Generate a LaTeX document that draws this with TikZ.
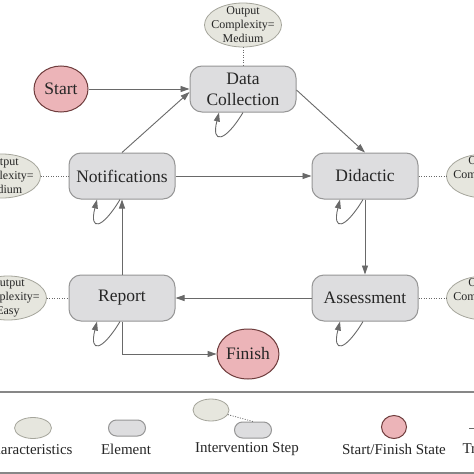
\documentclass[tikz,border=0pt]{standalone}
\usepackage{fontspec}
\setmainfont{Liberation Serif}
\usetikzlibrary{arrows.meta,positioning,shapes.geometric}
\definecolor{stepgray}{RGB}{221,221,223}
\definecolor{stepborder}{RGB}{150,150,150}
\definecolor{charfill}{RGB}{230,230,222}
\definecolor{charborder}{RGB}{165,165,155}
\definecolor{statepink}{RGB}{236,180,184}
\definecolor{stateborder}{RGB}{110,60,60}
\definecolor{linegray}{RGB}{105,105,105}
\definecolor{rulegray}{RGB}{135,135,135}

\begin{document}
\begin{tikzpicture}[x=1pt, y=-1pt,
    stepbox/.style={draw=stepborder, line width=1pt, fill=stepgray, rounded corners=12pt,
                    minimum width=106pt, minimum height=46pt, align=center,
                    font=\fontsize{17.5}{21}\selectfont, text=black!85},
    charnode/.style={ellipse, draw=charborder, line width=0.8pt, fill=charfill,
                     minimum width=77pt, minimum height=44pt, inner xsep=-5pt, inner ysep=-5pt,
                     align=center, font=\fontsize{12}{14}\selectfont, text=black!85},
    statenode/.style={ellipse, draw=stateborder, line width=1pt, fill=statepink,
                      minimum width=54pt, minimum height=46pt, inner sep=0pt,
                      font=\fontsize{17.5}{21}\selectfont, text=black!85},
    trans/.style={-{Triangle[length=9pt,width=6pt]}, line width=0.9pt, draw=linegray},
    link/.style={line width=1pt, draw=linegray, dash pattern=on 1pt off 1.5pt},
    legtext/.style={font=\fontsize{15}{18}\selectfont, text=black!85}]
\clip (0,0) rectangle (474,474);
\fill[white] (0,0) rectangle (474,474);
% Intervention steps
\node[stepbox] (dc) at (243,89) {Data\\Collection};
\node[stepbox] (notif) at (122,176) {Notifications};
\node[stepbox] (did) at (365,176) {Didactic};
\node[stepbox] (rep) at (122,298) {Report};
\node[stepbox] (assess) at (365,298) {Assessment};
% Start / Finish
\node[statenode] (start) at (61,89) {Start};
\node[statenode, minimum width=57pt, minimum height=50pt] (finish) at (248,354) {Finish};
% Characteristics
\node[charnode] (dcc) at (243,25) {Output\\Complexity=\\Medium};
\node[charnode] (notifc) at (2,176) {Output\\Complexity=\\Medium};
\node[charnode] (repc) at (8,298) {Output\\Complexity=\\Easy};
\node[charnode] (didc) at (485,176) {Output\\Complexity=\\\phantom{High}};
\node[charnode] (assessc) at (485,298) {Output\\Complexity=\\\phantom{High}};
\draw[link] (dcc) -- (dc);
\draw[link] (notifc) -- (notif);
\draw[link] (repc) -- (rep);
\draw[link] (did) -- (didc);
\draw[link] (assess) -- (assessc);
% Transitions
\draw[trans] (start) -- (dc);
\draw[trans] (notif.north) -- ([yshift=-3pt]dc.west);
\draw[trans] ([yshift=-1pt]dc.east) -- (did.north);
\draw[trans] (notif) -- (did);
\draw[trans] (did) -- (assess);
\draw[trans] (assess) -- (rep);
\draw[trans] (rep) -- (notif);
\draw[trans] (rep.south) |- (finish);
% Self loops
\draw[trans] (dc.south) .. controls +(-18,30) and +(-8,32) .. ([xshift=-24pt]dc.south);
\draw[trans] ([xshift=-2pt]notif.south) .. controls +(-18,30) and +(-8,32) .. ([xshift=-25pt]notif.south);
\draw[trans] ([xshift=-2pt]did.south) .. controls +(-18,30) and +(-8,32) .. ([xshift=-25pt]did.south);
\draw[trans] ([xshift=-2pt]rep.south) .. controls +(-18,30) and +(-8,32) .. ([xshift=-25pt]rep.south);
\draw[trans] ([xshift=-2pt]assess.south) .. controls +(-18,30) and +(-8,32) .. ([xshift=-25pt]assess.south);
% Legend
\draw[rulegray, line width=2pt] (0,392) -- (474,392);
\draw[rulegray, line width=2pt] (0,473) -- (474,473);
\node[charnode, minimum width=37pt, minimum height=21pt] (lchar) at (33,428) {};
\node[stepbox, minimum width=37pt, minimum height=16pt, rounded corners=8pt] (lelem) at (127,428) {};
\node[charnode, minimum width=36pt, minimum height=22pt] (lstepc) at (211,410) {};
\node[stepbox, minimum width=37pt, minimum height=16pt, rounded corners=8pt] (lstep) at (253,430) {};
\draw[link, line width=0.8pt] (lstepc) -- (lstep.north);
\node[statenode, minimum width=25pt, minimum height=23pt] (lstate) at (394,427) {};
\coordinate (ltransa) at (469,428);
\coordinate (ltransb) at (515,428);
\draw[trans] (ltransa) -- (ltransb);
\node[legtext] (lchart) at (28,449) {Characteristics};
\node[legtext] (lelemt) at (126,449) {Element};
\node[legtext] (lstept) at (247,449) {Intervention Step};
\node[legtext] (lstatet) at (394,449) {Start/Finish State};
\node[legtext, anchor=west] (ltranst) at (459,449) {Transition};
\end{tikzpicture}
\end{document}
